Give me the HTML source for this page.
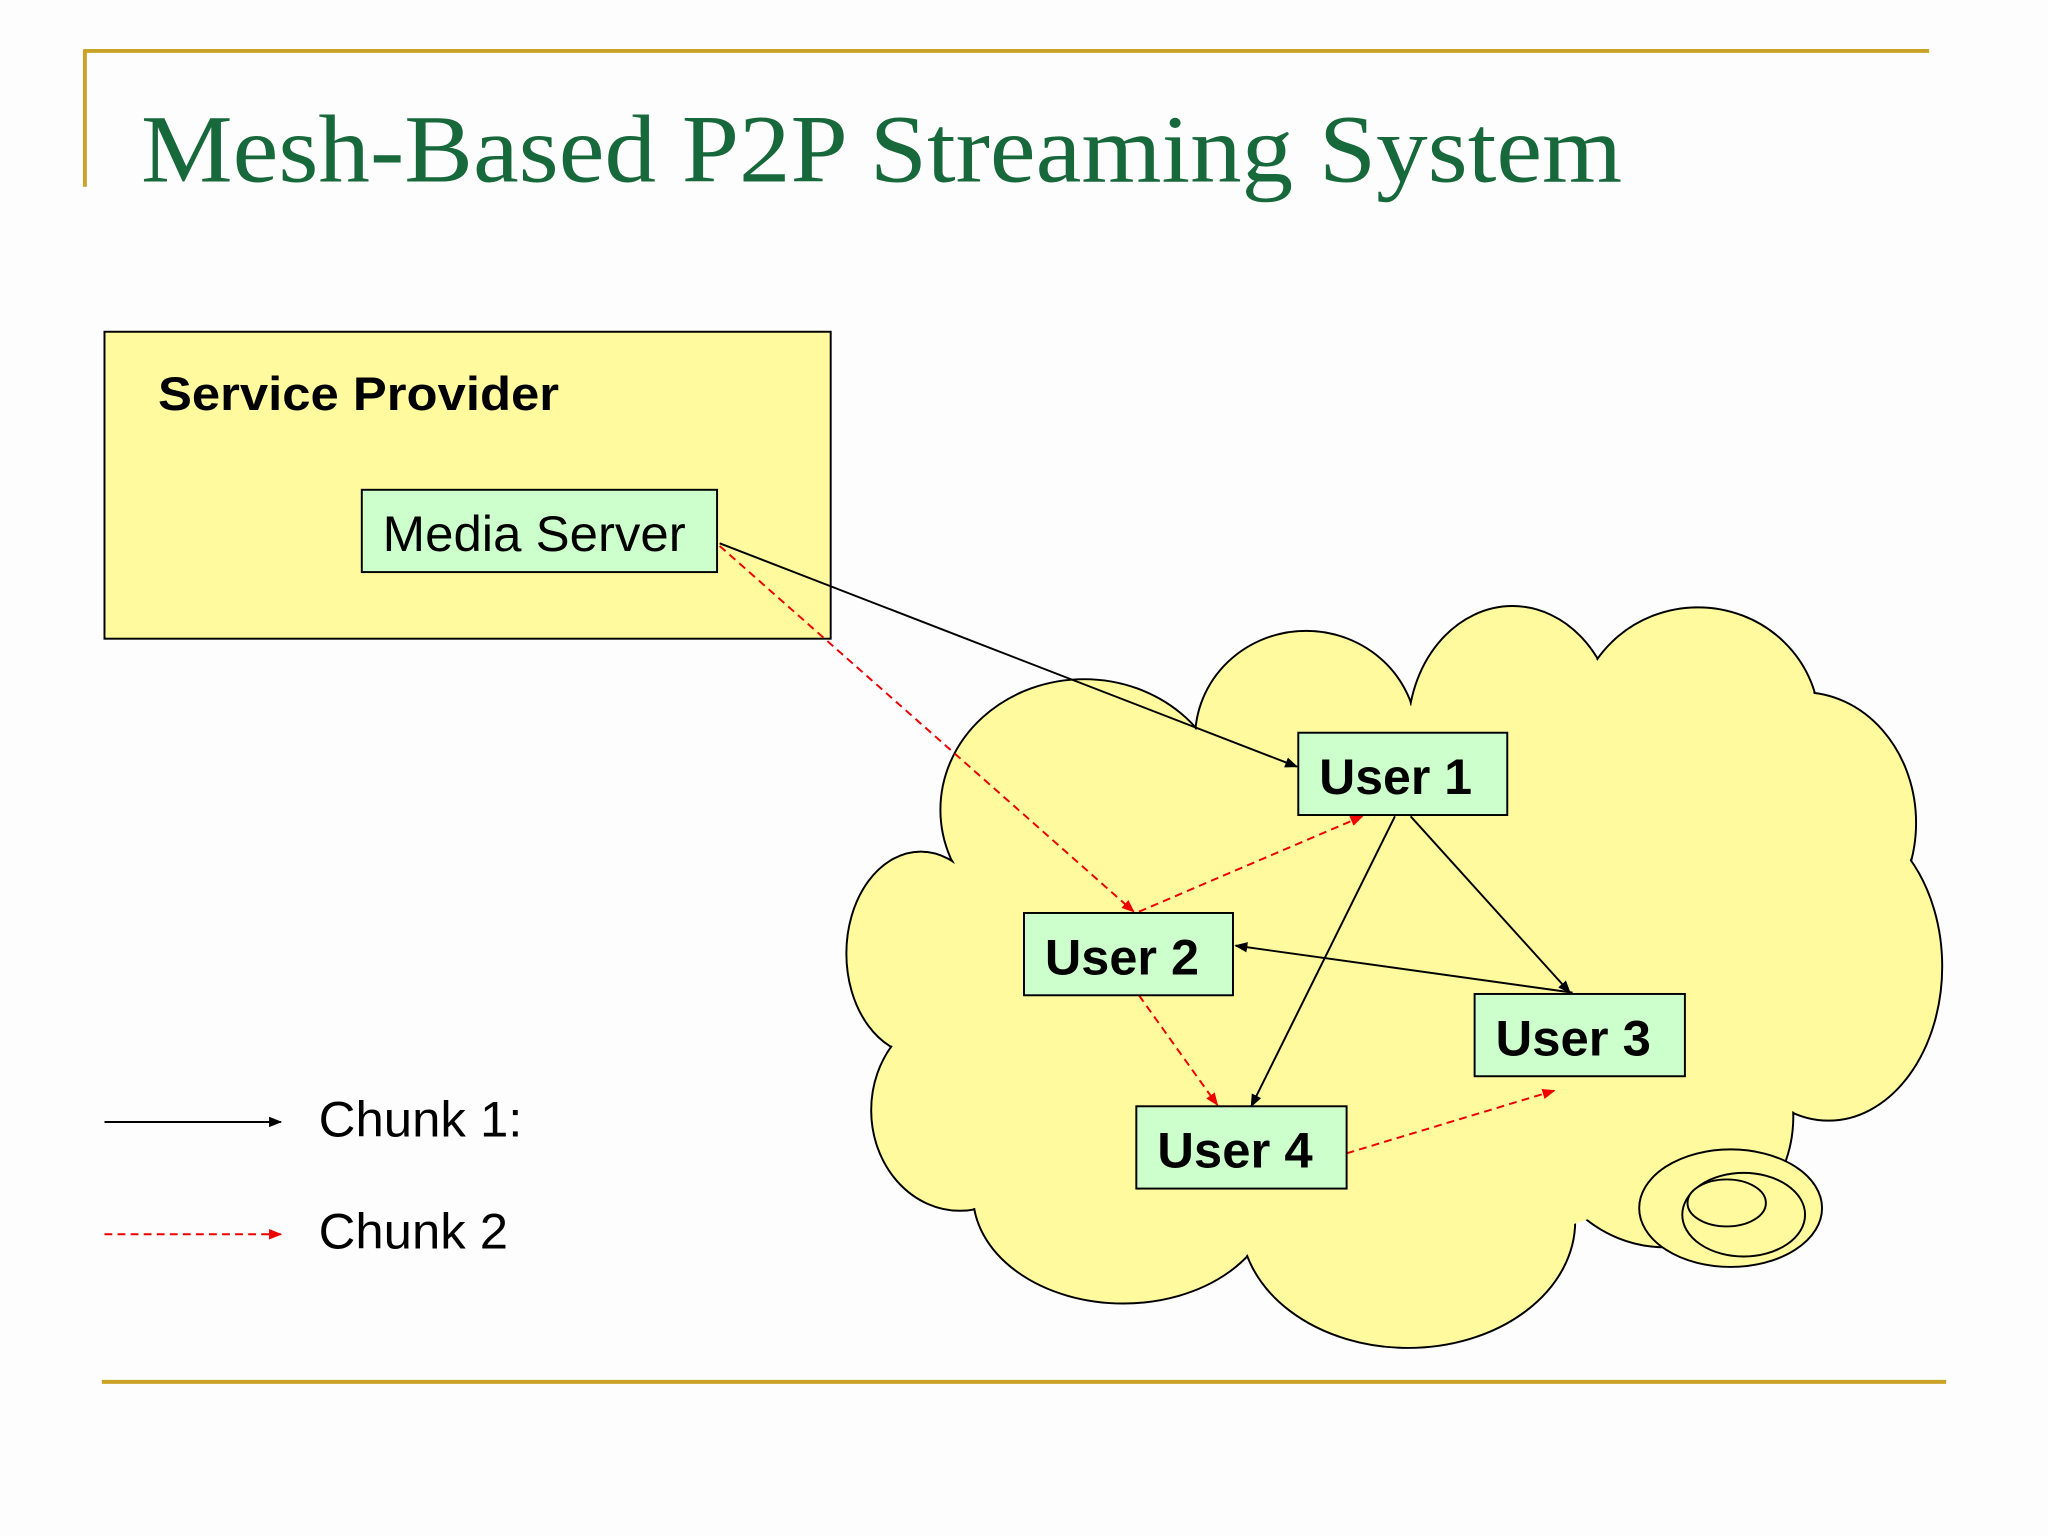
<!DOCTYPE html>
<html><head><meta charset="utf-8"><style>
html,body{margin:0;padding:0;background:#fff;}
svg{display:block;}
</style></head><body>
<svg width="2048" height="1536" viewBox="0 0 1568 1176" xmlns="http://www.w3.org/2000/svg">
<defs>
<marker id="ab" markerWidth="10" markerHeight="8" refX="9" refY="4" orient="auto" markerUnits="userSpaceOnUse"><path d="M0,0 L10,4 L0,8 z" fill="#000"/></marker>
<marker id="ar" markerWidth="10" markerHeight="8" refX="9" refY="4" orient="auto" markerUnits="userSpaceOnUse"><path d="M0,0 L10,4 L0,8 z" fill="#e00"/></marker>
</defs>
<rect width="1568" height="1176" fill="#fdfdfd"/>
<line x1="64" y1="39" x2="1477" y2="39" stroke="#c9a227" stroke-width="3"/>
<line x1="65" y1="38" x2="65" y2="143" stroke="#c9a227" stroke-width="3"/>
<line x1="78" y1="1058" x2="1490" y2="1058" stroke="#c9a227" stroke-width="3"/>
<text x="108" y="139" font-family="Liberation Serif, serif" font-size="74" fill="#17683a" textLength="1134" lengthAdjust="spacingAndGlyphs">Mesh-Based P2P Streaming System</text>

<rect x="80" y="254" width="556" height="235" fill="#fffa9e" stroke="#000" stroke-width="1.5"/>
<text x="121" y="314" font-family="Liberation Sans, sans-serif" font-weight="bold" font-size="36" textLength="307" lengthAdjust="spacingAndGlyphs">Service Provider</text>
<rect x="277" y="375" width="272" height="63" fill="#ccffcc" stroke="#000" stroke-width="1.5"/>
<text x="293" y="422" font-family="Liberation Sans, sans-serif" font-size="38" textLength="232" lengthAdjust="spacingAndGlyphs">Media Server</text>

<g stroke="#000" stroke-width="1.5" fill="#fffa9e">
<ellipse cx="830" cy="620" rx="110" ry="100"/>
<ellipse cx="1000" cy="565" rx="85" ry="82"/>
<ellipse cx="1158" cy="560" rx="80" ry="96"/>
<ellipse cx="1300" cy="555" rx="93" ry="90"/>
<ellipse cx="1380" cy="630" rx="87" ry="100"/>
<ellipse cx="1400" cy="740" rx="87" ry="118"/>
<ellipse cx="705" cy="730" rx="57" ry="78"/>
<ellipse cx="735" cy="850" rx="68" ry="77"/>
<ellipse cx="860" cy="915" rx="115" ry="83"/>
<ellipse cx="1078" cy="935" rx="128" ry="97"/>
<ellipse cx="1275" cy="855" rx="98" ry="100"/>
</g>
<g fill="#fffa9e">
<ellipse cx="830" cy="620" rx="109" ry="99"/>
<ellipse cx="1000" cy="565" rx="84" ry="81"/>
<ellipse cx="1158" cy="560" rx="79" ry="95"/>
<ellipse cx="1300" cy="555" rx="92" ry="89"/>
<ellipse cx="1380" cy="630" rx="86" ry="99"/>
<ellipse cx="1400" cy="740" rx="86" ry="117"/>
<ellipse cx="705" cy="730" rx="56" ry="77"/>
<ellipse cx="735" cy="850" rx="67" ry="76"/>
<ellipse cx="860" cy="915" rx="114" ry="82"/>
<ellipse cx="1078" cy="935" rx="127" ry="96"/>
<ellipse cx="1275" cy="855" rx="97" ry="99"/>
<ellipse cx="1060" cy="750" rx="320" ry="210"/>
</g>
<g stroke="#000" stroke-width="1.5" fill="#fffa9e">
<ellipse cx="1325" cy="925" rx="70" ry="45"/>
<ellipse cx="1335" cy="930" rx="47" ry="32"/>
<ellipse cx="1322" cy="921" rx="30" ry="18"/>
</g>

<g stroke="#000" stroke-width="1.5" fill="none">
<line x1="551" y1="416" x2="993" y2="587" marker-end="url(#ab)"/>
<line x1="1080" y1="625" x2="1202" y2="760" marker-end="url(#ab)"/>
<line x1="1068" y1="625" x2="958" y2="847" marker-end="url(#ab)"/>
<line x1="1204" y1="760" x2="946" y2="724" marker-end="url(#ab)"/>
</g>
<g stroke="#e00" stroke-width="1.5" fill="none" stroke-dasharray="6,4">
<line x1="551" y1="418" x2="868" y2="698" marker-end="url(#ar)"/>
<line x1="872" y1="698" x2="1043" y2="625" marker-end="url(#ar)"/>
<line x1="872" y1="762" x2="932" y2="846" marker-end="url(#ar)"/>
<line x1="1031" y1="883" x2="1190" y2="835" marker-end="url(#ar)"/>
</g>

<g font-family="Liberation Sans, sans-serif" font-weight="bold" font-size="38">
<rect x="994" y="561" width="160" height="63" fill="#ccffcc" stroke="#000" stroke-width="1.5"/>
<text x="1010" y="608" textLength="117" lengthAdjust="spacingAndGlyphs">User 1</text>
<rect x="784" y="699" width="160" height="63" fill="#ccffcc" stroke="#000" stroke-width="1.5"/>
<text x="800" y="746" textLength="118" lengthAdjust="spacingAndGlyphs">User 2</text>
<rect x="1129" y="761" width="161" height="63" fill="#ccffcc" stroke="#000" stroke-width="1.5"/>
<text x="1145" y="808" textLength="119" lengthAdjust="spacingAndGlyphs">User 3</text>
<rect x="870" y="847" width="161" height="63" fill="#ccffcc" stroke="#000" stroke-width="1.5"/>
<text x="886" y="894" textLength="119" lengthAdjust="spacingAndGlyphs">User 4</text>
</g>

<line x1="80" y1="859" x2="215" y2="859" stroke="#000" stroke-width="1.5" marker-end="url(#ab)"/>
<line x1="80" y1="945" x2="215" y2="945" stroke="#e00" stroke-width="1.5" stroke-dasharray="6,4" marker-end="url(#ar)"/>
<g font-family="Liberation Sans, sans-serif" font-size="38">
<text x="244" y="870" textLength="156" lengthAdjust="spacingAndGlyphs">Chunk 1:</text>
<text x="244" y="956" textLength="145" lengthAdjust="spacingAndGlyphs">Chunk 2</text>
</g>
</svg>
</body></html>
